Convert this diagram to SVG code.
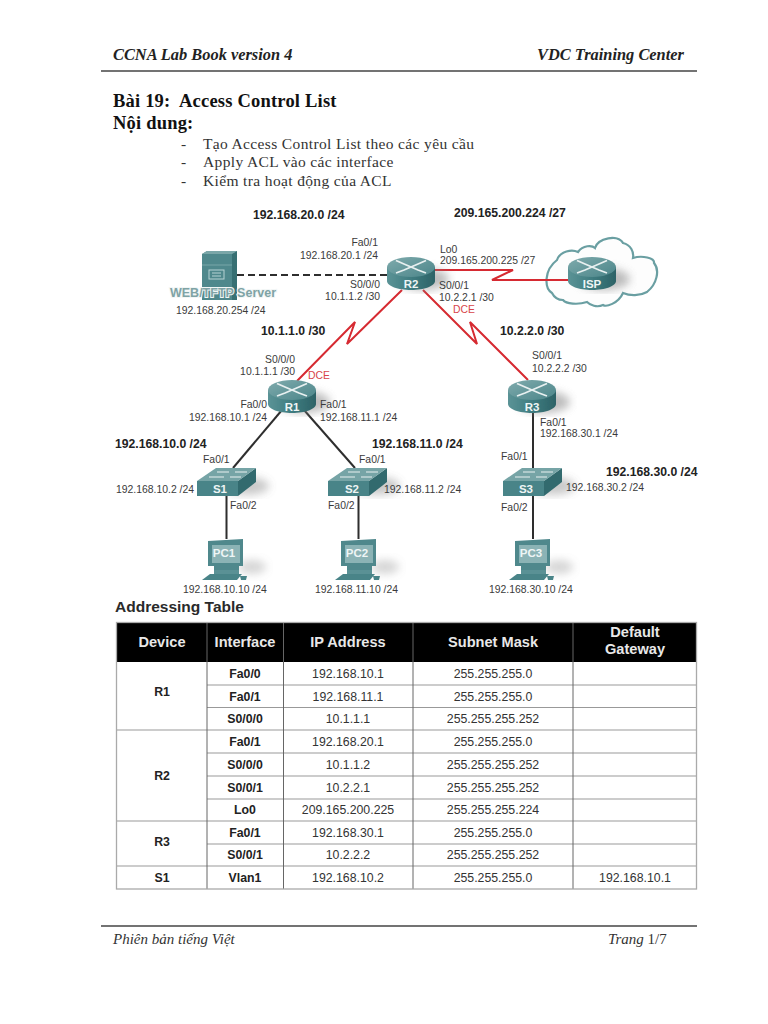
<svg xmlns="http://www.w3.org/2000/svg" width="768" height="1024" viewBox="0 0 768 1024">
<style>
.s{font-family:"Liberation Sans",Arial,sans-serif;font-size:10.4px;fill:#3a3a3a}
.b{font-family:"Liberation Sans",Arial,sans-serif;font-size:12.2px;font-weight:bold;fill:#222}
.r{text-anchor:end}
.dce{font-family:"Liberation Sans",Arial,sans-serif;font-size:10.4px;fill:#d8454a}
.dev{font-family:"Liberation Sans",Arial,sans-serif;font-size:11.5px;font-weight:bold;fill:#eef5f5;text-anchor:middle}
.th{font-family:"Liberation Sans",Arial,sans-serif;font-size:14.6px;font-weight:bold;fill:#e8e8e8;text-anchor:middle}
.td{font-family:"Liberation Sans",Arial,sans-serif;font-size:12.3px;fill:#333;text-anchor:middle}
.tb{font-family:"Liberation Sans",Arial,sans-serif;font-size:12.3px;font-weight:bold;fill:#222;text-anchor:middle}
.hd{font-family:"Liberation Serif","Times New Roman",serif;font-size:16.4px;font-weight:bold;font-style:italic;fill:#222}
.h1{font-family:"Liberation Serif","Times New Roman",serif;font-size:18.5px;font-weight:bold;fill:#111;letter-spacing:.2px}
.li{font-family:"Liberation Serif","Times New Roman",serif;font-size:15.5px;fill:#333;letter-spacing:.36px}
.ft{font-family:"Liberation Serif","Times New Roman",serif;font-size:15px;font-style:italic;fill:#333}
.ftn{font-family:"Liberation Serif","Times New Roman",serif;font-size:15px;fill:#333}
.red{fill:none;stroke:#d62a30;stroke-width:2}
.blk{fill:none;stroke:#2e2e2e;stroke-width:2}
.rule{stroke:#444;stroke-width:1.6}
.hl{stroke:#999;stroke-width:1}
.vl{stroke:#666;stroke-width:1}
.ic{filter:url(#soft)}
</style>
<defs>
<linearGradient id="body" x1="0" x2="1" y1="0" y2="0"><stop offset="0" stop-color="#5b9396"/><stop offset=".5" stop-color="#3f7c80"/><stop offset="1" stop-color="#2d6367"/></linearGradient>
<linearGradient id="top" x1="0" x2="1" y1="0" y2="1"><stop offset="0" stop-color="#7fabad"/><stop offset="1" stop-color="#4b8589"/></linearGradient>
<filter id="blur" x="-50%" y="-50%" width="200%" height="200%"><feGaussianBlur stdDeviation="4"/></filter>
<filter id="soft" x="-10%" y="-10%" width="120%" height="120%"><feGaussianBlur stdDeviation=".4"/></filter>
<symbol id="router" width="70" height="40" viewBox="0 0 70 40" overflow="visible">
<ellipse cx="36" cy="22" rx="26" ry="11" fill="#888" opacity=".55" filter="url(#blur)"/>
<path d="M0 10V24C0 29 11 33 24 33S48 29 48 24V10Z" fill="url(#body)"/>
<ellipse cx="24" cy="10" rx="24" ry="10" fill="url(#top)"/>
<path d="M9 3.500L17 7L31 13L39 16M39 3.500L31 7L17 13L9 16" fill="none" stroke="#e8f0f0" stroke-width="1.800"/>
</symbol>
<symbol id="switch" width="80" height="40" viewBox="0 0 80 40" overflow="visible">
<ellipse cx="50" cy="18" rx="22" ry="9" fill="#888" opacity=".45" filter="url(#blur)"/>
<path d="M0 13H41V28H0Z" fill="#4a8488"/>
<path d="M41 13L59 0V14L41 28Z" fill="#316a6e"/>
<path d="M0 13L19 0H59L41 13Z" fill="#76a4a6"/>
<path d="M12 9H27M33 9H44M20 4H32M38 4H50" stroke="#e8f0f0" stroke-width="1.200"/>
</symbol>
<symbol id="pc" width="70" height="50" viewBox="0 0 70 50" overflow="visible">
<ellipse cx="44" cy="28" rx="14" ry="7" fill="#999" opacity=".4" filter="url(#blur)"/>
<path d="M0 2L35 0V27H31V31H6V27H0Z" fill="#4f888c"/>
<path d="M4 6H32V24H4Z" fill="#8bb3b5"/>
<path d="M6 31H31L31 35H6Z" fill="#5a9195"/>
<path d="M-6 41L2 35H34L29 41Z" fill="#4a8488"/>
<path d="M32 37H39L38 41H33Z" fill="#4a8488"/>
</symbol>
</defs>
<rect width="768" height="1024" fill="#fff"/>
<g id="page">
<text class="hd" x="113" y="60">CCNA Lab Book version 4</text>
<text class="hd" x="537" y="60">VDC Training Center</text>
<line class="rule" x1="101" y1="71" x2="697" y2="71"/>
<text class="h1" x="113" y="107" xml:space="preserve">Bài 19:  Access Control List</text>
<text class="h1" x="113" y="129">Nội dung:</text>
<text class="li" x="181" y="149">-</text><text class="li" x="203" y="149">Tạo Access Control List theo các yêu cầu</text>
<text class="li" x="181" y="167">-</text><text class="li" x="203" y="167">Apply ACL vào các interface</text>
<text class="li" x="181" y="186">-</text><text class="li" x="203" y="186">Kiểm tra hoạt động của ACL</text>
<line class="rule" x1="101" y1="926" x2="697" y2="926"/>
<text class="ft" x="113" y="944">Phiên bản tiếng Việt</text>
<text x="608" y="944"><tspan class="ft">Trang </tspan><tspan class="ftn">1/7</tspan></text>
</g>
<g id="cloud"><path class="ic" d="M552 293C544 288 544 270 557 260C560 251 572 249 578 252C583 245 592 245 595 248C598 238 618 234 623 243C631 245 634 252 633 258C642 255 655 258 654 263C660 270 657 284 647 292C640 296 630 296 623 293C618 304 606 307 603 305C597 308 590 305 587 302C578 305 566 304 563 300C558 300 554 297 552 293Z" fill="#fdfdfd" stroke="#6a9fa2" stroke-width="2.200"/></g>
<g id="connectors" class="ic">
<line x1="237" y1="275" x2="388" y2="275" fill="none" stroke="#2e2e2e" stroke-width="2" stroke-dasharray="7 4"/>
<polyline class="red" points="297,381 355,322 347,344 402,290"/>
<polyline class="red" points="435,270 513,270 492,280 568,280"/>
<polyline class="red" points="423,290 477,344 470,322 528,380"/>
<line class="blk" x1="282" y1="410" x2="233" y2="468"/>
<line class="blk" x1="304" y1="410" x2="355" y2="468"/>
<line class="blk" x1="533" y1="412" x2="533" y2="468"/>
<line class="blk" x1="226.500" y1="495" x2="226.500" y2="539"/>
<line class="blk" x1="358.500" y1="495" x2="358.500" y2="539"/>
<line class="blk" x1="533" y1="495" x2="533" y2="539"/>
</g>
<g id="server">
<g class="ic">
<path d="M202 254L207 251H237V300H202Z" fill="#4f888c"/>
<path d="M232 254L237 251V300H232Z" fill="#376f73"/>
<path d="M202 254L207 251H237L232 254Z" fill="#7aa6a8"/>
<line x1="202" y1="265" x2="232" y2="265" stroke="#7aa6a8"/>
<rect x="209" y="270" width="15" height="9" fill="none" stroke="#b6d2d3"/>
<path d="M212 273H221M212 276H221" stroke="#b6d2d3"/>
</g>
<text x="223" y="297" text-anchor="middle" font-family="Liberation Sans, Arial, sans-serif" font-size="12.500" font-weight="bold" fill="#7fa3a5" stroke="#f2f6f6" stroke-width="2" paint-order="stroke">WEB/TFTP Server</text>
<text class="s" x="176" y="314">192.168.20.254 /24</text>
</g>
<g id="R2"><use class="ic" href="#router" x="387" y="257"/><text class="dev" x="411" y="288">R2</text></g>
<g id="ISP"><use class="ic" href="#router" x="568" y="257"/><text class="dev" x="592" y="288">ISP</text></g>
<g id="R1"><use class="ic" href="#router" x="268" y="380"/><text class="dev" x="292" y="411">R1</text></g>
<g id="R3"><use class="ic" href="#router" x="508" y="380"/><text class="dev" x="532" y="411">R3</text></g>
<g id="S1"><use class="ic" href="#switch" x="197" y="468"/><text class="dev" x="220" y="493">S1</text></g>
<g id="S2"><use class="ic" href="#switch" x="328" y="468"/><text class="dev" x="352" y="493">S2</text></g>
<g id="S3"><use class="ic" href="#switch" x="503" y="468"/><text class="dev" x="526" y="493">S3</text></g>
<g id="PC1"><use class="ic" href="#pc" x="208" y="539"/><text class="dev" x="224" y="557">PC1</text></g>
<g id="PC2"><use class="ic" href="#pc" x="341" y="539"/><text class="dev" x="357" y="557">PC2</text></g>
<g id="PC3"><use class="ic" href="#pc" x="515" y="539"/><text class="dev" x="531" y="557">PC3</text></g>
<g id="labels">
<text class="b" x="253" y="219">192.168.20.0 /24</text>
<text class="b" x="454" y="217">209.165.200.224 /27</text>
<text class="b" x="261" y="335">10.1.1.0 /30</text>
<text class="b" x="500" y="335">10.2.2.0 /30</text>
<text class="b" x="115" y="448">192.168.10.0 /24</text>
<text class="b" x="372" y="448">192.168.11.0 /24</text>
<text class="b" x="606" y="476">192.168.30.0 /24</text>
<text class="s r" x="378" y="246">Fa0/1</text>
<text class="s r" x="378" y="259">192.168.20.1 /24</text>
<text class="s r" x="380" y="288">S0/0/0</text>
<text class="s r" x="380" y="300">10.1.1.2 /30</text>
<text class="s" x="440" y="253">Lo0</text>
<text class="s" x="440" y="264">209.165.200.225 /27</text>
<text class="s" x="439" y="289">S0/0/1</text>
<text class="s" x="439" y="301">10.2.2.1 /30</text>
<text class="dce" x="453" y="313">DCE</text>
<text class="s r" x="295" y="363">S0/0/0</text>
<text class="s r" x="295" y="375">10.1.1.1 /30</text>
<text class="dce" x="308" y="379">DCE</text>
<text class="s r" x="267" y="408">Fa0/0</text>
<text class="s r" x="267" y="421">192.168.10.1 /24</text>
<text class="s" x="320" y="408">Fa0/1</text>
<text class="s" x="320" y="421">192.168.11.1 /24</text>
<text class="s" x="532" y="359">S0/0/1</text>
<text class="s" x="532" y="372">10.2.2.2 /30</text>
<text class="s" x="540" y="426">Fa0/1</text>
<text class="s" x="540" y="437">192.168.30.1 /24</text>
<text class="s" x="203" y="463">Fa0/1</text>
<text class="s" x="359" y="463">Fa0/1</text>
<text class="s" x="501" y="460">Fa0/1</text>
<text class="s" x="116" y="493">192.168.10.2 /24</text>
<text class="s" x="384" y="493">192.168.11.2 /24</text>
<text class="s" x="566" y="491">192.168.30.2 /24</text>
<text class="s" x="230" y="509">Fa0/2</text>
<text class="s" x="328" y="509">Fa0/2</text>
<text class="s" x="501" y="511">Fa0/2</text>
<text class="s" x="183" y="593">192.168.10.10 /24</text>
<text class="s" x="315" y="593">192.168.11.10 /24</text>
<text class="s" x="489" y="593">192.168.30.10 /24</text>
</g>
<g id="table">
<text x="115" y="612" font-family="Liberation Sans, Arial, sans-serif" font-size="15.500" font-weight="bold" fill="#2a2a2a">Addressing Table</text>
<rect x="117" y="623" width="579" height="39" fill="#000"/>
<g>
<line class="hl" x1="207" y1="685" x2="696" y2="685"/>
<line class="hl" x1="207" y1="707.500" x2="696" y2="707.500"/>
<line class="hl" x1="117" y1="730" x2="696" y2="730"/>
<line class="hl" x1="207" y1="753" x2="696" y2="753"/>
<line class="hl" x1="207" y1="776" x2="696" y2="776"/>
<line class="hl" x1="207" y1="799" x2="696" y2="799"/>
<line class="hl" x1="117" y1="821" x2="696" y2="821"/>
<line class="hl" x1="207" y1="844" x2="696" y2="844"/>
<line class="hl" x1="117" y1="866" x2="696" y2="866"/>
<line class="vl" x1="207" y1="623" x2="207" y2="889"/>
<line class="vl" x1="283.500" y1="623" x2="283.500" y2="889"/>
<line class="vl" x1="413" y1="623" x2="413" y2="889"/>
<line class="vl" x1="573" y1="623" x2="573" y2="889"/>
<rect x="116.500" y="622.500" width="580" height="266.500" fill="none" stroke="#aaa" stroke-width="1.300"/>
</g>
<text class="th" x="162" y="647">Device</text>
<text class="th" x="245" y="647">Interface</text>
<text class="th" x="348" y="647">IP Address</text>
<text class="th" x="493" y="647">Subnet Mask</text>
<text class="th" x="635" y="637">Default</text>
<text class="th" x="635" y="654">Gateway</text>
<text class="tb" x="162" y="696">R1</text>
<text class="tb" x="162" y="780">R2</text>
<text class="tb" x="162" y="846">R3</text>
<text class="tb" x="162" y="882">S1</text>
<text class="tb" x="245" y="678">Fa0/0</text><text class="td" x="348" y="678">192.168.10.1</text><text class="td" x="493" y="678">255.255.255.0</text>
<text class="tb" x="245" y="700.500">Fa0/1</text><text class="td" x="348" y="700.500">192.168.11.1</text><text class="td" x="493" y="700.500">255.255.255.0</text>
<text class="tb" x="245" y="723">S0/0/0</text><text class="td" x="348" y="723">10.1.1.1</text><text class="td" x="493" y="723">255.255.255.252</text>
<text class="tb" x="245" y="746">Fa0/1</text><text class="td" x="348" y="746">192.168.20.1</text><text class="td" x="493" y="746">255.255.255.0</text>
<text class="tb" x="245" y="769">S0/0/0</text><text class="td" x="348" y="769">10.1.1.2</text><text class="td" x="493" y="769">255.255.255.252</text>
<text class="tb" x="245" y="792">S0/0/1</text><text class="td" x="348" y="792">10.2.2.1</text><text class="td" x="493" y="792">255.255.255.252</text>
<text class="tb" x="245" y="814">Lo0</text><text class="td" x="348" y="814">209.165.200.225</text><text class="td" x="493" y="814">255.255.255.224</text>
<text class="tb" x="245" y="837">Fa0/1</text><text class="td" x="348" y="837">192.168.30.1</text><text class="td" x="493" y="837">255.255.255.0</text>
<text class="tb" x="245" y="859">S0/0/1</text><text class="td" x="348" y="859">10.2.2.2</text><text class="td" x="493" y="859">255.255.255.252</text>
<text class="tb" x="245" y="882">Vlan1</text><text class="td" x="348" y="882">192.168.10.2</text><text class="td" x="493" y="882">255.255.255.0</text><text class="td" x="635" y="882">192.168.10.1</text>
</g>
</svg>
